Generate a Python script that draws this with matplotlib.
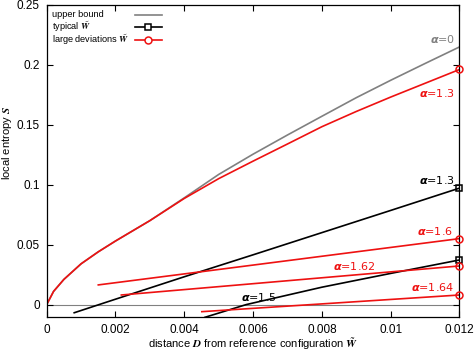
import matplotlib
matplotlib.use("Agg")
import matplotlib.pyplot as plt

# ---- data ----
D_bound = [0, 0.0002, 0.0005, 0.001, 0.0015, 0.002, 0.003, 0.004, 0.005,
           0.006, 0.007, 0.008, 0.009, 0.010, 0.011, 0.012]
S_bound = [0, 0.011, 0.021, 0.034, 0.044, 0.053, 0.070, 0.089, 0.1085,
           0.1254, 0.1414, 0.157, 0.1725, 0.187, 0.201, 0.2148]
S_ld13 = [0, 0.011, 0.021, 0.034, 0.044, 0.053, 0.070, 0.0885, 0.105,
          0.1196, 0.1339, 0.1483, 0.161, 0.173, 0.1845, 0.196]

D_typ13 = [0.0008, 0.002, 0.004, 0.006, 0.008, 0.010, 0.012]
S_typ13 = [-0.0068, 0.0045, 0.0232, 0.0415, 0.0600, 0.0785, 0.0971]

D_typ15 = [0.0046, 0.0058, 0.008, 0.010, 0.012]
S_typ15 = [-0.0106, 0.0, 0.0145, 0.026, 0.0372]

D_ld16 = [0.0015, 0.012]
S_ld16 = [0.0164, 0.0550]
D_ld162 = [0.00217, 0.012]
S_ld162 = [0.0080, 0.0322]
D_ld164 = [0.00451, 0.012]
S_ld164 = [-0.0059, 0.0080]

xticks = [0, 0.002, 0.004, 0.006, 0.008, 0.01, 0.012]
xticklabels = ["0", "0.002", "0.004", "0.006", "0.008", "0.01", "0.012"]
yticks = [0, 0.05, 0.1, 0.15, 0.2, 0.25]
yticklabels = ["0", "0.05", "0.1", "0.15", "0.2", "0.25"]

legend_labels = ["upper bound", r"typical $\tilde{\boldsymbol{W}}$",
                 r"large deviations $\tilde{\boldsymbol{W}}$"]

RED = "#ee1111"
GRAY = "#808080"

plt.rcParams['font.family'] = ['Liberation Sans', 'DejaVu Sans']
fig = plt.figure(figsize=(4.74, 3.51), dpi=100)
ax = fig.add_axes([0.0985, 0.0977, 0.8709, 0.8889])

ax.axhline(0, color=GRAY, lw=0.8, zorder=1)

ax.plot(D_bound, S_bound, color=GRAY, lw=1.2)
ax.plot(D_typ13, S_typ13, color="black", lw=1.2)
ax.plot(D_typ15, S_typ15, color="black", lw=1.2)
ax.plot(D_bound, S_ld13, color=RED, lw=1.2)
ax.plot(D_ld16, S_ld16, color=RED, lw=1.2)
ax.plot(D_ld162, S_ld162, color=RED, lw=1.2)
ax.plot(D_ld164, S_ld164, color=RED, lw=1.2)

# end markers
ms = 5
for xs, ys in [(D_typ13, S_typ13), (D_typ15, S_typ15)]:
    ax.plot([xs[-1]], [ys[-1]], marker="s", ms=ms, mfc="none", mec="black",
            mew=1.1, clip_on=False, zorder=5)
for xs, ys in [(D_bound, S_ld13), (D_ld16, S_ld16), (D_ld162, S_ld162), (D_ld164, S_ld164)]:
    ax.plot([xs[-1]], [ys[-1]], marker="o", ms=ms, mfc="none", mec=RED,
            mew=1.1, clip_on=False, zorder=5)

# legend (text left-aligned, handles to the right)
leg_styles = [dict(color=GRAY, marker=None),
              dict(color="black", marker="s", mec="black"),
              dict(color=RED, marker="o", mec=RED)]
leg_y = [0.968, 0.929, 0.887]
for lab, st, yy in zip(legend_labels, leg_styles, leg_y):
    ax.text(0.013, yy, lab, transform=ax.transAxes, fontsize=6.6, ha="left",
            va="center", math_fontfamily="stix")
    ax.plot([0.214, 0.279], [yy, yy], transform=ax.transAxes, color=st["color"],
            lw=1.2, zorder=6)
    if st["marker"]:
        ax.plot([0.2465], [yy], transform=ax.transAxes, marker=st["marker"],
                ms=ms, mfc="white", mec=st["mec"], mew=1.1, zorder=7)

# annotations
af = dict(fontsize=8, family='DejaVu Sans', ha='right', va='center')
ax.text(0.01187, 0.2211, r"$\boldsymbol{\alpha}$=0", color=GRAY, **af)
ax.text(0.01187, 0.1766, r"$\boldsymbol{\alpha}$=1.3", color=RED, **af)
ax.text(0.01187, 0.1040, r"$\boldsymbol{\alpha}$=1.3", color="black", **af)
ax.text(0.01181, 0.0617, r"$\boldsymbol{\alpha}$=1.6", color=RED, **af)
ax.text(0.00956, 0.0322, r"$\boldsymbol{\alpha}$=1.62", color=RED, **af)
ax.text(0.01184, 0.0149, r"$\boldsymbol{\alpha}$=1.64", color=RED, **af)
ax.text(0.00669, 0.0066, r"$\boldsymbol{\alpha}$=1.5", color="black", **af)

ax.set_xlim(0, 0.012)
ax.set_ylim(-0.0101, 0.25)
ax.set_xticks(xticks)
ax.set_xticklabels(xticklabels)
ax.set_yticks(yticks)
ax.set_yticklabels(yticklabels)
ax.tick_params(direction="in", top=True, right=True, length=4, width=0.8,
               labelsize=8.5, pad=5)
for s in ax.spines.values():
    s.set_linewidth(0.9)

ax.set_xlabel(r"distance $\boldsymbol{D}$ from reference configuration $\tilde{\boldsymbol{W}}$",
              fontsize=8, math_fontfamily='stix')
ax.xaxis.set_label_coords(0.5, -0.062)
ax.set_ylabel(r"local entropy $\boldsymbol{S}$", fontsize=8, math_fontfamily='stix')
ax.yaxis.set_label_coords(-0.078, 0.557)

fig.savefig("out.png", dpi=100)
